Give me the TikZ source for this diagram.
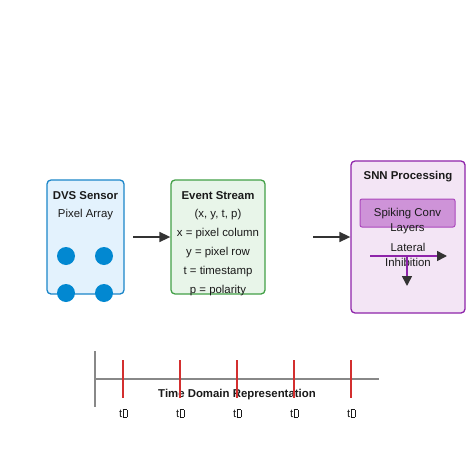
\documentclass[tikz,border=0pt]{standalone}
\usepackage{fontspec}
\setmainfont{Liberation Sans}
\usetikzlibrary{arrows.meta}
\definecolor{dvsline}{HTML}{1B86C9}
\definecolor{dvsfill}{HTML}{E3F2FD}
\definecolor{dot}{HTML}{0288D1}
\definecolor{evline}{HTML}{43A047}
\definecolor{evfill}{HTML}{E8F5E9}
\definecolor{snnline}{HTML}{8E24AA}
\definecolor{snnfill}{HTML}{F3E5F5}
\definecolor{innfill}{HTML}{CE93D8}
\definecolor{innline}{HTML}{AB47BC}
\definecolor{axis}{HTML}{888888}
\definecolor{tick}{HTML}{D32F2F}
\definecolor{ink}{HTML}{1A1A1A}
\definecolor{arrowc}{HTML}{333333}
\newcommand\tofubox{\kern0.4pt{\setlength\fboxsep{0pt}\setlength\fboxrule{0.4pt}\fbox{\rule{0pt}{7.5pt}\kern3.5pt}}}
\begin{document}
\begin{tikzpicture}[x=1pt,y=-1pt,
  panel/.style={draw, rounded corners=4pt, line width=1.3pt, inner sep=0pt},
  txt/.style={text=ink, font=\fontsize{11.4}{13}\selectfont, inner sep=0pt},
  ttl/.style={txt, font=\fontsize{11.4}{13}\selectfont\bfseries},
  arr/.style={draw=arrowc, line width=1.6pt, -{Triangle[length=11pt,width=10pt]}},
  dotst/.style={circle, fill=dot, minimum size=18pt, inner sep=0pt},
  tickst/.style={draw=tick, line width=1.2pt},
  axst/.style={draw=axis, line width=1.2pt}
]
\useasboundingbox[fill=white] (0,0) rectangle (474,474);

% DVS sensor
\node[panel, draw=dvsline, fill=dvsfill, minimum width=77pt, minimum height=114pt] (dvs) at (85.5,237) {};
\node[ttl] (dvst) at (85.5,195.5) {DVS Sensor};
\node[txt] (dvss) at (85.5,214.5) {Pixel Array};
\node[dotst] (d1) at (66,256) {};
\node[dotst] (d2) at (104,256) {};
\node[dotst] (d3) at (66,293) {};
\node[dotst] (d4) at (104,293) {};

% Event stream
\node[panel, draw=evline, fill=evfill, minimum width=94pt, minimum height=114pt] (ev) at (218,237) {};
\node[ttl] (evt) at (218,195.5) {Event Stream};
\node[txt] (ev1) at (218,214.5) {(x, y, t, p)};
\node[txt] (ev2) at (218,233.5) {x = pixel column};
\node[txt] (ev3) at (218,252.5) {y = pixel row};
\node[txt] (ev4) at (218,271.5) {t = timestamp};
\node[txt] (ev5) at (218,290.5) {p = polarity};

% SNN processing
\node[panel, draw=snnline, fill=snnfill, minimum width=114pt, minimum height=152pt] (snn) at (408,237) {};
\node[ttl] (snnt) at (408,176.5) {SNN Processing};
\node[draw=innline, fill=innfill, rounded corners=2pt, line width=1pt, minimum width=95pt, minimum height=28pt, inner sep=0pt] (conv) at (407.5,213) {};
\node[txt] (conv1) at (407.5,213.5) {Spiking Conv};
\node[txt] (conv2) at (407.5,228.5) {Layers};
\node[txt] (lat1) at (408,247.5) {Lateral};
\node[txt] (lat2) at (408,262.5) {Inhibition};

\coordinate (hs) at (370,256);
\coordinate (he) at (447,256);
\coordinate (vs) at (407,256);
\coordinate (ve) at (407,286);
\draw[draw=snnline, line width=1.6pt, -{Triangle[length=10pt,width=10pt,color=arrowc]}] (hs) -- (he);
\draw[draw=snnline, line width=1.6pt, -{Triangle[length=10pt,width=10pt,color=arrowc]}] (vs) -- (ve);

% main arrows
\coordinate (a1s) at (133,237);
\coordinate (a2s) at (313,237);
\draw[arr] (a1s) -- (ev.west);
\draw[arr] (a2s) -- (snn.west);

% timeline
\coordinate (vt) at (95,351);
\coordinate (o) at (95,407);
\coordinate (hl) at (95,379);
\coordinate (hr) at (379,379);
\draw[axst] (vt) -- (o);
\draw[axst] (hl) -- (hr);
\node[ttl] (tdr) at (237,394.5) {Time Domain Representation};
\foreach \i/\x in {1/123,2/180,3/237,4/294,5/351}{
  \coordinate (ta\i) at (\x,360);
  \coordinate (tb\i) at (\x,398);
  \draw[tickst] (ta\i) -- (tb\i);
  \node[txt] (tl\i) at (\x,413.5) {t\tofubox};
}
\end{tikzpicture}
\end{document}
